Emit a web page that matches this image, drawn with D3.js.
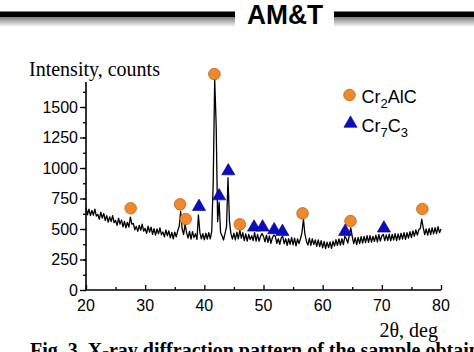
<!DOCTYPE html>
<html>
<head>
<meta charset="utf-8">
<script src="https://cdn.jsdelivr.net/npm/d3@7"></script>
<style>
  html, body { margin: 0; padding: 0; background: #fff; }
  svg { display: block; }
</style>
</head>
<body>
<svg id="chart"></svg>
<script>
"use strict";

// scan: start angle, step (deg) and measured intensities (counts)
const scanStart = 20;
const scanStep = 0.25;
const intensity = [
  675, 617, 663, 610,   653, 613, 663, 606,   620, 580, 638, 590,   627, 570, 610, 557,
  600, 560, 610, 553,   570, 530, 588, 540,   575, 517, 563, 510,   555, 515, 598, 540,
  545, 493, 522, 480,   530, 490, 540, 483,   505, 465, 523, 475,   515, 457, 503, 450,
  500, 460, 510, 453,   475, 435, 493, 445,   485, 427, 473, 420,   475, 435, 485, 520,
  645, 500, 455, 540,   470, 425, 480, 418,   478, 430, 462, 415,   615, 470, 420, 462,
  412, 465, 418, 470,   420, 480, 880, 1730,  1350, 560, 720, 470,  445, 410, 465, 520,
  920, 560, 460, 418,   465, 410, 475, 420,   490, 425, 470, 405,   460, 400, 455, 413,
  445, 405, 470, 400,   455, 400, 440, 462,   440, 395, 450, 390,   443, 383, 428, 450,
  440, 382, 420, 375,   428, 440, 380, 420,   365, 420, 375, 431,   370, 425, 361, 418,
  380, 420, 470, 580,   460, 400, 368, 425,   366, 420, 372, 410,   358, 410, 355, 405,
  345, 398, 340, 392,   348, 395, 342, 400,   360, 412, 365, 418,   368, 420, 372, 440,
  420, 385, 450, 510,   440, 380, 430, 372,   432, 380, 438, 385,   440, 388, 445, 390,
  446, 392, 440, 398,   450, 395, 455, 400,   445, 455, 405, 452,   405, 458, 402, 455,
  410, 462, 405, 460,   412, 465, 418, 470,   415, 470, 425, 478,   430, 485, 440, 492,
  450, 495, 505, 580,   510, 455, 500, 450,   505, 455, 510, 460,   512, 462, 520, 470,
  500
];

// phase markers [2theta, intensity]
const cr2alc = [
  [27.55, 670], [35.9, 702], [36.85, 582], [41.7, 1770],
  [46.0, 538], [56.6, 628], [64.7, 565], [76.85, 664]
];
const cr7c3 = [
  [39.1, 683], [42.5, 770], [44.05, 975], [48.4, 514], [49.85, 514],
  [51.8, 492], [53.2, 478], [63.8, 478], [70.35, 506]
];

const xTicks = [20, 30, 40, 50, 60, 70, 80];
const yTicks = [0, 250, 500, 750, 1000, 1250, 1500];

const width = 474, height = 352;
const plot = { left: 86, right: 441, top: 82, bottom: 290 };

const svg = d3.select('#chart')
  .attr('width', width)
  .attr('height', height)
  .attr('viewBox', `0 0 ${width} ${height}`);

// header bar with shadow
const defs = svg.append('defs');
const grad = defs.append('linearGradient')
  .attr('id', 'shade').attr('x1', 0).attr('x2', 0).attr('y1', 0).attr('y2', 1);
grad.append('stop').attr('offset', '0%').attr('stop-color', '#7a7a7a');
grad.append('stop').attr('offset', '100%').attr('stop-color', '#ffffff');

[[0, 235], [334, 474]].forEach(([x0, x1]) => {
  svg.append('rect').attr('x', x0).attr('y', 17).attr('width', x1 - x0).attr('height', 10)
    .attr('fill', 'url(#shade)');
  svg.append('rect').attr('x', x0).attr('y', 11.5).attr('width', x1 - x0).attr('height', 5.5)
    .attr('fill', '#000');
});
svg.append('text')
  .attr('x', 247).attr('y', 23.5)
  .attr('textLength', 76).attr('lengthAdjust', 'spacingAndGlyphs')
  .style('font', 'bold 28px "Liberation Sans", Arial, sans-serif')
  .text('AM&T');

// scales
const x = d3.scaleLinear().domain([20, 80]).range([plot.left, plot.right]);
const y = d3.scaleLinear().domain([0, 1705]).range([plot.bottom, plot.top]);

const sans = '"Liberation Sans", Arial, sans-serif';
const serif = '"Liberation Serif", "Times New Roman", serif';

// pattern line
const pts = intensity.map((v, i) => [scanStart + i * scanStep, v]);
svg.append('path')
  .datum(pts)
  .attr('fill', 'none')
  .attr('stroke', '#000')
  .attr('stroke-width', 1.3)
  .attr('stroke-linejoin', 'round')
  .attr('d', d3.line().x(d => x(d[0])).y(d => y(d[1])));

// y axis (ticks outward)
const yMin = svg.append('g').attr('transform', `translate(${plot.left},0)`)
  .call(d3.axisLeft(y).tickValues(d3.range(0, 1705, 125)).tickSize(3).tickFormat(''));
yMin.select('.domain').remove();
const yMaj = svg.append('g').attr('transform', `translate(${plot.left},0)`)
  .call(d3.axisLeft(y).tickValues(yTicks).tickSize(6).tickPadding(2).tickFormat(d3.format('d')));
yMaj.select('.domain').remove();
yMaj.selectAll('text').style('font', `16px ${sans}`).attr('fill', '#000');

// x axis (ticks inward)
const xMin = svg.append('g').attr('transform', `translate(0,${plot.bottom})`)
  .call(d3.axisTop(x).tickValues(d3.range(25, 80, 10)).tickSize(3).tickFormat(''));
xMin.select('.domain').remove();
const xMaj = svg.append('g').attr('transform', `translate(0,${plot.bottom})`)
  .call(d3.axisTop(x).tickValues(xTicks).tickSize(5).tickFormat(''));
xMaj.select('.domain').remove();
svg.append('g').selectAll('text')
  .data(xTicks).enter().append('text')
  .attr('x', d => x(d)).attr('y', plot.bottom + 21)
  .attr('text-anchor', 'middle')
  .style('font', `16px ${sans}`)
  .text(d => d);
svg.selectAll('.tick line').attr('stroke', '#000').attr('stroke-width', 1.3);

// axis lines
svg.append('path')
  .attr('d', `M${plot.left},${plot.top}V${plot.bottom}H${plot.right}`)
  .attr('fill', 'none').attr('stroke', '#000').attr('stroke-width', 1.6);

// markers
const tri = d3.symbol().type(d3.symbolTriangle).size(75);
svg.append('g').selectAll('circle')
  .data(cr2alc).enter().append('circle')
  .attr('cx', d => x(d[0])).attr('cy', d => y(d[1])).attr('r', 5.8)
  .attr('fill', '#f0892c').attr('stroke', '#b8621a').attr('stroke-width', 0.8);
svg.append('g').selectAll('path')
  .data(cr7c3).enter().append('path')
  .attr('transform', d => `translate(${x(d[0])},${y(d[1])})`)
  .attr('d', tri)
  .attr('fill', '#0b0bc4').attr('stroke', '#00007a').attr('stroke-width', 0.6);

// legend
svg.append('circle').attr('cx', 349.5).attr('cy', 95).attr('r', 5.8)
  .attr('fill', '#f0892c').attr('stroke', '#b8621a').attr('stroke-width', 0.8);
svg.append('path').attr('transform', 'translate(350.5,123.5)').attr('d', tri)
  .attr('fill', '#0b0bc4').attr('stroke', '#00007a').attr('stroke-width', 0.6);

const leg1 = svg.append('text').attr('x', 361.5).attr('y', 103).style('font', `18px ${sans}`);
leg1.append('tspan').text('Cr');
leg1.append('tspan').attr('dy', 5).style('font-size', '13px').text('2');
leg1.append('tspan').attr('dy', -5).text('AlC');
const leg2 = svg.append('text').attr('x', 361.5).attr('y', 131.5).style('font', `18px ${sans}`);
leg2.append('tspan').text('Cr');
leg2.append('tspan').attr('dy', 5).style('font-size', '13px').text('7');
leg2.append('tspan').attr('dy', -5).text('C');
leg2.append('tspan').attr('dy', 5).style('font-size', '13px').text('3');

// axis titles
svg.append('text').attr('x', 29).attr('y', 76)
  .style('font', `20px ${serif}`).text('Intensity, counts');
svg.append('text').attr('x', 438).attr('y', 337).attr('text-anchor', 'end')
  .style('font', `20px ${serif}`).text('2θ, deg');

// caption, cut by the bottom edge as in the source page
svg.append('text').attr('x', 30).attr('y', 357)
  .style('font', `bold 20px ${serif}`)
  .text('Fig. 3. X-ray diffraction pattern of the sample obtained by SHS');
</script>
</body>
</html>
